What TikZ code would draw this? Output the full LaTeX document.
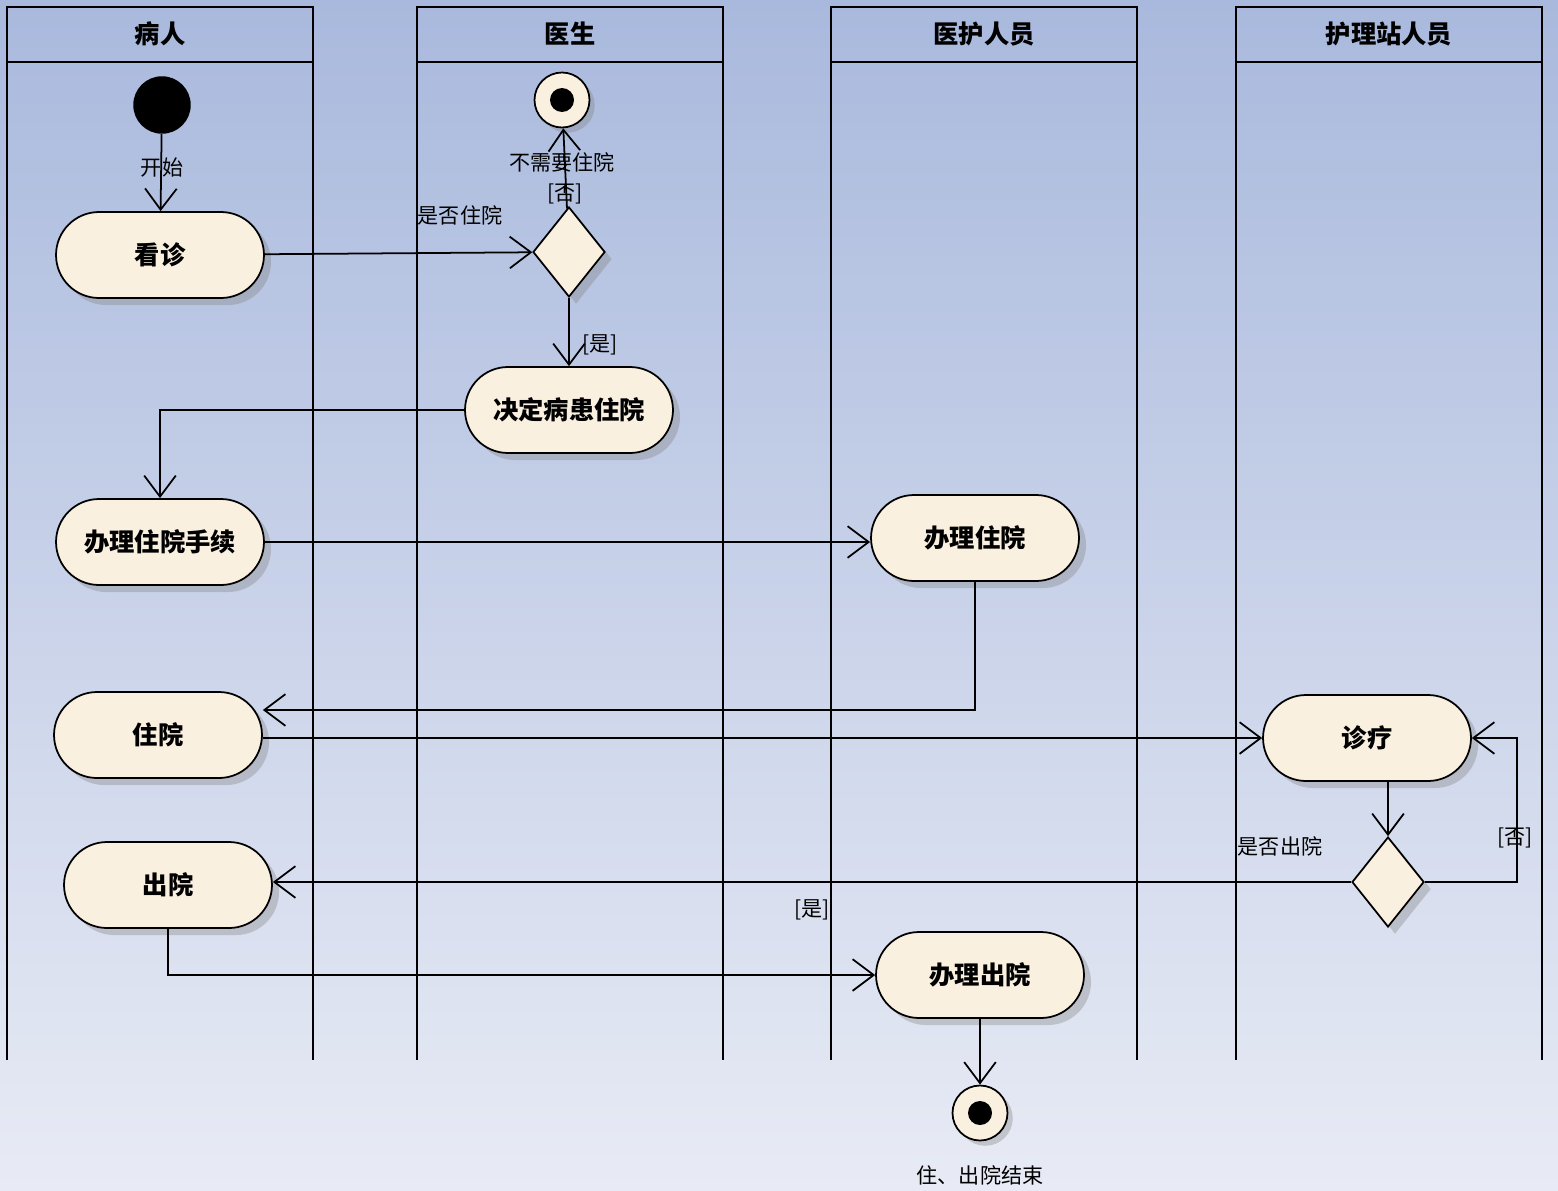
\documentclass[tikz,border=0pt]{standalone}
\usepackage{fontspec}
\setmainfont{Noto Sans CJK SC}
\usetikzlibrary{arrows.meta,shapes.geometric,shadows}
\definecolor{bgtop}{RGB}{169,185,221}
\definecolor{bgbot}{RGB}{232,235,245}
\definecolor{actfill}{RGB}{250,240,224}
\tikzstyle{lane} = [draw=black, line width=1.2pt]
\tikzstyle{act} = [rectangle, rounded corners=43*0.02cm, minimum width=4.16cm, minimum height=1.72cm, draw=black, line width=1pt, fill=actfill, drop shadow={shadow xshift=4pt,shadow yshift=-4pt,opacity=0.35}, font=\bfseries\Large]
\tikzstyle{decision} = [diamond, minimum width=1.44cm, minimum height=1.8cm, inner sep=0pt, draw=black, line width=1pt, fill=actfill, drop shadow={shadow xshift=4pt,shadow yshift=-4pt,opacity=0.35}]
\tikzstyle{final} = [circle, minimum size=1.1cm, draw=black, line width=1pt, fill=actfill, drop shadow={shadow xshift=3pt,shadow yshift=-3pt,opacity=0.35}]
\tikzstyle{lbl} = [font=\large, inner sep=1pt]
\tikzstyle{arrow} = [line width=1pt, -{Straight Barb[length=12pt,width=18pt]}]

\begin{document}
\begin{tikzpicture}[x=0.02cm,y=-0.02cm]
	\useasboundingbox (0,0) rectangle (1558,1190);
	\shade[top color=bgtop, bottom color=bgbot] (0,0) rectangle (1558,1190);

	% swimlanes
	\foreach \xa/\name in {7/病人, 417/医生, 831/医护人员, 1236/护理站人员}{
		\draw [lane] (\xa,1060) -- (\xa,7) -- (\xa+306,7) -- (\xa+306,1060);
		\draw [lane] (\xa,62) -- (\xa+306,62);
		\node [font=\bfseries\Large] at (\xa+153,34) {\name};
	}

	\node (start) [circle, fill=black, minimum size=1.15cm] at (162,105) {};
	\node (kz) [act] at (160,255) {看诊};
	\node (d1) [decision] at (569,252) {};
	\node (end1) [final] at (562,100) {};
	\fill (end1) circle (0.24cm);
	\node (jd) [act] at (569,410) {决定病患住院};
	\node (sx) [act] at (160,542) {办理住院手续};
	\node (blzy) [act] at (975,538) {办理住院};
	\node (zy) [act] at (158,735) {住院};
	\node (zl) [act] at (1367,738) {诊疗};
	\node (d2) [decision] at (1388,882) {};
	\node (cy) [act] at (168,885) {出院};
	\node (blcy) [act] at (980,975) {办理出院};
	\node (end2) [final] at (980,1113) {};
	\fill (end2) circle (0.24cm);
	\coordinate (back) at (1517,882);

	\draw [arrow] (start) -- (kz);
	\draw [arrow] (kz) -- (d1);
	\draw [arrow] (d1) -- (end1);
	\draw [arrow] (d1) -- (jd);
	\draw [arrow] (jd.west) -| (sx.north);
	\draw [arrow] (sx) -- (sx -| blzy.west);
	\draw [arrow] (blzy.south) |- ([yshift=0.5cm]zy.east);
	\draw [arrow] ([yshift=-0.06cm]zy.east) -- ([yshift=-0.06cm]zy.east -| zl.west);
	\draw [arrow] (d2.north |- zl.south) -- (d2.north);
	\draw [arrow] (d2.east) -- (back) |- (zl.east);
	\draw [arrow] (d2.west) -- (d2.west -| cy.east);
	\draw [arrow] (cy.south) |- (blcy.west);
	\draw [arrow] (blcy) -- (end2);

	\node [lbl] at (162,168) {开始};
	\node [lbl] at (460,215) {是否住院};
	\node [lbl] at (562,162) {不需要住院};
	\node [lbl] at (565,194) {[否]};
	\node [lbl] at (600,345) {[是]};
	\node [lbl] at (1280,846) {是否出院};
	\node [lbl] at (1515,838) {[否]};
	\node [lbl] at (812,910) {[是]};
	\node [lbl] at (980,1175) {住、出院结束};
\end{tikzpicture}
\end{document}
